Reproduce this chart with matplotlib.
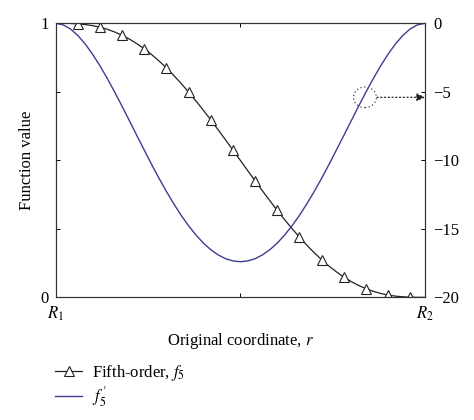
import matplotlib
matplotlib.use('Agg')
import matplotlib.pyplot as plt
from matplotlib.patches import Ellipse

plt.rcParams['font.family'] = ['Liberation Serif', 'DejaVu Serif']
plt.rcParams['mathtext.fontset'] = 'stix'
plt.rcParams['font.size'] = 12

# normalised position between R1 and R2
r = [0.00, 0.02, 0.04, 0.06, 0.08, 0.10, 0.12, 0.14, 0.16, 0.18,
     0.20, 0.22, 0.24, 0.26, 0.28, 0.30, 0.32, 0.34, 0.36, 0.38,
     0.40, 0.42, 0.44, 0.46, 0.48, 0.50, 0.52, 0.54, 0.56, 0.58,
     0.60, 0.62, 0.64, 0.66, 0.68, 0.70, 0.72, 0.74, 0.76, 0.78,
     0.80, 0.82, 0.84, 0.86, 0.88, 0.90, 0.92, 0.94, 0.96, 0.98, 1.00]

# fifth-order function f5 (left axis)
f5 = [1.0000, 0.9999, 0.9994, 0.9980, 0.9955, 0.9914, 0.9857, 0.9780, 0.9682, 0.9563,
      0.9421, 0.9256, 0.9067, 0.8857, 0.8624, 0.8369, 0.8095, 0.7801, 0.7491, 0.7165,
      0.6826, 0.6475, 0.6114, 0.5747, 0.5375, 0.5000, 0.4625, 0.4253, 0.3886, 0.3525,
      0.3174, 0.2835, 0.2509, 0.2199, 0.1905, 0.1631, 0.1376, 0.1143, 0.0933, 0.0744,
      0.0579, 0.0437, 0.0318, 0.0220, 0.0143, 0.0086, 0.0045, 0.0020, 0.0006, 0.0001, 0.0000]

# derivative f5' (right axis)
df5 = [0.0, -0.11, -0.41, -0.89, -1.51, -2.26, -3.11, -4.04, -5.03, -6.07,
       -7.13, -8.20, -9.26, -10.31, -11.32, -12.28, -13.18, -14.02, -14.78, -15.45,
       -16.04, -16.52, -16.90, -17.18, -17.34, -17.40, -17.34, -17.18, -16.90, -16.52,
       -16.04, -15.45, -14.78, -14.02, -13.18, -12.28, -11.32, -10.31, -9.26, -8.20,
       -7.13, -6.07, -5.03, -4.04, -3.11, -2.26, -1.51, -0.89, -0.41, -0.11, 0.0]

fig = plt.figure(figsize=(4.74, 4.2), dpi=100)
ax = fig.add_axes([0.1175, 0.292, 0.779, 0.6525])
ax2 = ax.twinx()

l1, = ax.plot(r, f5, color='#222222', lw=0.9, marker='^', markevery=slice(3, 49, 3),
              markersize=7.5, markerfacecolor='white', markeredgecolor='#222222',
              markeredgewidth=0.8, label='Fifth-order, $f_5$')
l2, = ax2.plot(r, df5, color='#3d3d92', lw=1.0, label="$f_5^{\\,\\prime}$")

ax.set_xlim(0, 1)
ax.set_ylim(0, 1)
ax2.set_ylim(-20, 0)

ax.set_xticks([0, 0.5, 1])
ax.set_xticklabels(['$R_1$', '', '$R_2$'])
ax.set_yticks([0, 0.25, 0.5, 0.75, 1])
ax.set_yticklabels(['0', '', '', '', '1'])
ax2.set_yticks([0, -5, -10, -15, -20])

ax.tick_params(axis='y', direction='in', length=3, width=0.7, pad=5)
ax.tick_params(axis='x', direction='in', length=3, width=0.7, top=True, pad=5)
ax2.tick_params(direction='in', length=3, width=0.7, pad=6)
for a in (ax, ax2):
    for s in a.spines.values():
        s.set_linewidth(0.8)
        s.set_color('#333333')

ax.set_xlabel('Original coordinate, $r$', labelpad=6)
ax.set_ylabel('Function value', labelpad=4)

# dotted circle and arrow pointing to right axis
ax2.add_patch(Ellipse((0.8375, -5.4), 0.062, 1.5, fill=False, ls=(0, (1, 2)),
                      lw=0.9, edgecolor='#444444'))
ax2.annotate('', xy=(1.0, -5.4), xytext=(0.87, -5.4),
             arrowprops=dict(arrowstyle='-|>', ls=(0, (1, 2)), lw=0.9,
                             color='#222222', mutation_scale=12, shrinkA=0, shrinkB=0))

fig.legend(handles=[l1, l2], loc='upper left', bbox_to_anchor=(0.117, 0.136),
           frameon=False, handlelength=1.6, handletextpad=0.6, labelspacing=0.1,
           borderaxespad=0, borderpad=0)

fig.savefig('out.png', dpi=100)
